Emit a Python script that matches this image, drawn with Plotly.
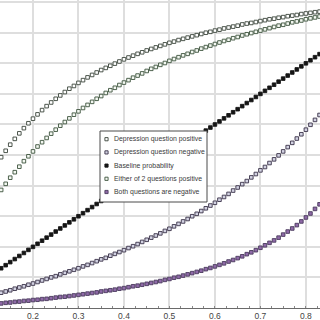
import plotly.graph_objects as go

# Pre-test (baseline) probability, x values
pretest = [0.12, 0.13, 0.14, 0.15, 0.16, 0.17, 0.18, 0.19, 0.20, 0.21, 0.22, 0.23, 0.24, 0.25,
           0.26, 0.27, 0.28, 0.29, 0.30, 0.31, 0.32, 0.33, 0.34, 0.35, 0.36, 0.37, 0.38, 0.39,
           0.40, 0.41, 0.42, 0.43, 0.44, 0.45, 0.46, 0.47, 0.48, 0.49, 0.50, 0.51, 0.52, 0.53,
           0.54, 0.55, 0.56, 0.57, 0.58, 0.59, 0.60, 0.61, 0.62, 0.63, 0.64, 0.65, 0.66, 0.67,
           0.68, 0.69, 0.70, 0.71, 0.72, 0.73, 0.74, 0.75, 0.76, 0.77, 0.78, 0.79, 0.80, 0.81,
           0.82, 0.83, 0.84]

baseline_prob = [0.12, 0.13, 0.14, 0.15, 0.16, 0.17, 0.18, 0.19, 0.20, 0.21, 0.22, 0.23, 0.24, 0.25,
                 0.26, 0.27, 0.28, 0.29, 0.30, 0.31, 0.32, 0.33, 0.34, 0.35, 0.36, 0.37, 0.38, 0.39,
                 0.40, 0.41, 0.42, 0.43, 0.44, 0.45, 0.46, 0.47, 0.48, 0.49, 0.50, 0.51, 0.52, 0.53,
                 0.54, 0.55, 0.56, 0.57, 0.58, 0.59, 0.60, 0.61, 0.62, 0.63, 0.64, 0.65, 0.66, 0.67,
                 0.68, 0.69, 0.70, 0.71, 0.72, 0.73, 0.74, 0.75, 0.76, 0.77, 0.78, 0.79, 0.80, 0.81,
                 0.82, 0.83, 0.84]

dep_positive = [0.470, 0.493, 0.514, 0.534, 0.553, 0.571, 0.588, 0.604, 0.619, 0.633, 0.647, 0.660,
                0.672, 0.684, 0.695, 0.706, 0.717, 0.726, 0.736, 0.745, 0.754, 0.762, 0.770, 0.778,
                0.785, 0.792, 0.799, 0.806, 0.813, 0.819, 0.825, 0.831, 0.836, 0.842, 0.847, 0.852,
                0.857, 0.862, 0.867, 0.871, 0.876, 0.880, 0.884, 0.888, 0.892, 0.896, 0.900, 0.903,
                0.907, 0.910, 0.914, 0.917, 0.920, 0.923, 0.927, 0.930, 0.932, 0.935, 0.938, 0.941,
                0.944, 0.946, 0.949, 0.951, 0.954, 0.956, 0.958, 0.961, 0.963, 0.965, 0.967, 0.969,
                0.972]

either_positive = [0.364, 0.386, 0.406, 0.426, 0.444, 0.462, 0.480, 0.496, 0.512, 0.528, 0.542, 0.556,
                   0.570, 0.583, 0.596, 0.608, 0.620, 0.632, 0.643, 0.654, 0.664, 0.674, 0.684, 0.693,
                   0.703, 0.712, 0.720, 0.729, 0.737, 0.745, 0.753, 0.760, 0.767, 0.775, 0.782, 0.788,
                   0.795, 0.801, 0.808, 0.814, 0.820, 0.826, 0.831, 0.837, 0.842, 0.848, 0.853, 0.858,
                   0.863, 0.868, 0.873, 0.877, 0.882, 0.886, 0.891, 0.895, 0.899, 0.903, 0.907, 0.911,
                   0.915, 0.919, 0.923, 0.926, 0.930, 0.934, 0.937, 0.940, 0.944, 0.947, 0.950, 0.953,
                   0.957]

dep_negative = [0.046, 0.050, 0.054, 0.058, 0.063, 0.067, 0.071, 0.076, 0.080, 0.085, 0.090, 0.095,
                0.100, 0.104, 0.110, 0.115, 0.120, 0.125, 0.130, 0.136, 0.141, 0.147, 0.153, 0.159,
                0.164, 0.171, 0.177, 0.183, 0.189, 0.196, 0.202, 0.209, 0.216, 0.223, 0.230, 0.237,
                0.244, 0.252, 0.259, 0.267, 0.275, 0.283, 0.291, 0.300, 0.308, 0.317, 0.326, 0.335,
                0.344, 0.354, 0.363, 0.373, 0.384, 0.394, 0.405, 0.415, 0.427, 0.438, 0.450, 0.461,
                0.474, 0.486, 0.499, 0.512, 0.526, 0.540, 0.554, 0.568, 0.583, 0.599, 0.615, 0.631,
                0.648]

both_negative = [0.014, 0.015, 0.017, 0.018, 0.020, 0.021, 0.023, 0.024, 0.026, 0.027, 0.029, 0.030,
                 0.032, 0.034, 0.036, 0.037, 0.039, 0.041, 0.043, 0.045, 0.047, 0.049, 0.051, 0.054,
                 0.056, 0.058, 0.060, 0.063, 0.065, 0.068, 0.071, 0.073, 0.076, 0.079, 0.082, 0.085,
                 0.088, 0.092, 0.095, 0.099, 0.102, 0.106, 0.110, 0.114, 0.118, 0.122, 0.127, 0.131,
                 0.136, 0.141, 0.146, 0.152, 0.157, 0.163, 0.169, 0.176, 0.182, 0.189, 0.197, 0.205,
                 0.213, 0.221, 0.230, 0.240, 0.250, 0.260, 0.271, 0.283, 0.296, 0.309, 0.324, 0.339,
                 0.355]

series_names = ["Depression question positive", "Depression question negative",
                "Baseline probability", "Either of 2 questions positive",
                "Both questions are negative"]
x_ticks = [0.2, 0.3, 0.4, 0.5, 0.6, 0.7, 0.8]
x_tick_labels = ["0.2", "0.3", "0.4", "0.5", "0.6", "0.7", "0.8"]

styles = {
    "Depression question positive": dict(fill="#ffffff", line="#3a443a"),
    "Depression question negative": dict(fill="#d2d2e2", line="#3a3248"),
    "Baseline probability": dict(fill="#151515", line="#151515"),
    "Either of 2 questions positive": dict(fill="#f4f8f2", line="#3c523c"),
    "Both questions are negative": dict(fill="#8f6aa8", line="#4a3a5c"),
}
values = {
    "Depression question positive": dep_positive,
    "Depression question negative": dep_negative,
    "Baseline probability": baseline_prob,
    "Either of 2 questions positive": either_positive,
    "Both questions are negative": both_negative,
}

fig = go.Figure()
for name in series_names:
    st = styles[name]
    fig.add_trace(go.Scatter(
        x=pretest, y=values[name], mode="markers", name=name, showlegend=False,
        marker=dict(symbol="square", size=3.6, color=st["fill"],
                    line=dict(color=st["line"], width=0.9)),
    ))

# Custom compact legend (drawn in pixel-like overlay axes)
W, H = 320, 308
bx0, bx1, by0, by1 = 100, 207, 131, 202
fig.add_trace(go.Scatter(
    x=[bx0, bx1, bx1, bx0, bx0], y=[by0, by0, by1, by1, by0],
    xaxis="x2", yaxis="y2", mode="lines", fill="toself", fillcolor="#ffffff",
    line=dict(color="#4a4a4a", width=1), showlegend=False, hoverinfo="skip",
))
rows = [139.2, 152.4, 165.6, 178.8, 192.0]
fig.add_trace(go.Scatter(
    x=[106.5] * 5, y=rows, xaxis="x2", yaxis="y2", mode="markers", showlegend=False,
    hoverinfo="skip",
    marker=dict(symbol="square", size=3.2, color=[styles[n]["fill"] for n in series_names],
                line=dict(color=[styles[n]["line"] for n in series_names], width=0.9)),
))
for name, ry in zip(series_names, rows):
    fig.add_annotation(x=111.5, y=ry, xref="x2", yref="y2", text=name, showarrow=False,
                       xanchor="left", yanchor="middle",
                       font=dict(family="Liberation Sans, Arial", size=6.9, color="#3a3a3a"))

fig.update_layout(
    width=320, height=320,
    margin=dict(l=0, r=0, t=0, b=12),
    paper_bgcolor="#ffffff", plot_bgcolor="#ffffff",
    showlegend=False,
    xaxis=dict(range=[0.1275, 0.831], tickvals=x_ticks, ticktext=x_tick_labels,
               showgrid=True, gridcolor="#dedede", gridwidth=1.5, zeroline=False,
               showline=True, linecolor="#6a6a6a", linewidth=1, ticks="", ticklen=0,
               tickfont=dict(family="Liberation Sans, Arial", size=8.5, color="#444444"),
               minor=dict(dtick=0.025, ticks="inside", ticklen=2, tickcolor="#888888",
                          showgrid=False)),
    yaxis=dict(range=[0, 1.007], dtick=0.1, showgrid=True, gridcolor="#dedede", gridwidth=1.5,
               zeroline=False, showticklabels=False, showline=False, ticks=""),
    xaxis2=dict(overlaying="x", range=[0, W], visible=False, fixedrange=True),
    yaxis2=dict(overlaying="y", range=[H, 0], visible=False, fixedrange=True),
)

fig.write_html("out.html")
